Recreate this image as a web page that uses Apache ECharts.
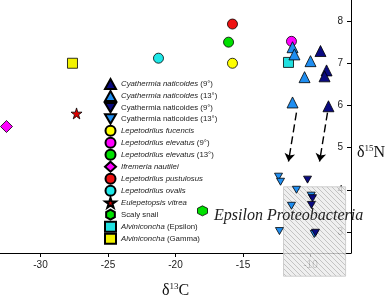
<!DOCTYPE html>
<html lang="en" style="height: 100%">
<head>
<meta charset="utf-8">
<title>d13C vs d15N scatter</title>
</head>
<body style="height: 100%; margin: 0; background: #fff">
<div id="container" style="width: 388px; height: 298px"></div>
<script type="text/javascript" src="https://cdn.jsdelivr.net/npm/echarts@6/dist/echarts.min.js"></script>
<script type="text/javascript">

// data: [d13C, d15N]
var cyaUp9 = [[-9.26, 7.29], [-8.81, 6.83], [-8.96, 6.69], [-8.67, 5.98]];
var cyaUp13 = [[-11.33, 7.38], [-11.19, 7.21], [-10.0, 7.05], [-10.44, 6.67], [-11.33, 6.07]];
var cyaDown9 = [[-10.22, 4.24], [-9.85, 3.80], [-9.93, 3.64], [-9.63, 2.98]];
var cyaDown13 = [[-12.37, 4.31], [-12.22, 4.19], [-11.04, 4.0], [-11.41, 3.62], [-12.30, 3.02], [-9.95, 3.86], [-9.72, 2.95]];
var lepFucencis = [[-15.78, 7.0]];
var lepElev9 = [[-11.41, 7.52]];
var lepElev13 = [[-16.07, 7.5]];
var ifremeria = [[-32.52, 5.5]];
var lepPustulosus = [[-15.78, 7.93]];
var lepOvalis = [[-21.26, 7.12]];
var eulepetopsis = [[-27.33, 5.81]];
var scalySnail = [[-18.0, 3.5]];
var alvEpsilon = [[-11.63, 7.02]];
var alvGamma = [[-27.63, 7.0]];

var xTicks = [-30, -25, -20, -15, -10];
var yTicks = [3, 4, 5, 6, 7, 8];

// hatched Epsilon Proteobacteria box: [x0, yTop], [x1, yBottom]; and the two arrows
var epsilonBox = [[-12.0, 4.07], [-7.4, 1.95]];
var arrows = [
    [[-11.04, 5.83], [-11.63, 4.67]],
    [[-8.74, 5.83], [-9.33, 4.67]]
];

var dom = document.getElementById('container');
var myChart = echarts.init(dom, null, { renderer: 'canvas' });

// diagonal hatch pattern
var hatch = document.createElement('canvas');
hatch.width = 5;
hatch.height = 5;
var hc = hatch.getContext('2d');
hc.fillStyle = '#ececec';
hc.fillRect(0, 0, 5, 5);
hc.strokeStyle = '#aeaeae';
hc.lineWidth = 0.9;
hc.beginPath();
hc.moveTo(-1, -1); hc.lineTo(6, 6);
hc.moveTo(-1, 4); hc.lineTo(1, 6);
hc.moveTo(4, -1); hc.lineTo(6, 1);
hc.stroke();

var STAR = 'path://M50,0 L61,35 L98,35 L68,57 L79,91 L50,70 L21,91 L32,57 L2,35 L39,35 Z';
var HEX = 'path://M43,0 L87,25 L87,75 L43,100 L0,75 L0,25 Z';
var DOWN = 'path://M0,0 L20,0 L10,17 Z';

var labels = {
    c9: '{i|Cyathermia naticoides} (9°)',
    c13: '{i|Cyathermia naticoides} (13°)',
    d9: 'Cyathermia naticoides (9°)',
    d13: 'Cyathermia naticoides (13°)',
    lf: '{i|Lepetodrilus fucencis}',
    le9: '{i|Lepetodrilus elevatus} (9°)',
    le13: '{i|Lepetodrilus elevatus} (13°)',
    ifr: '{i|Ifremeria nautilei}',
    lp: '{i|Lepetodrilus pustulosus}',
    lo: '{i|Lepetodrilus ovalis}',
    ev: '{i|Eulepetopsis vitrea}',
    ss: 'Scaly snail',
    ae: '{i|Alviniconcha} (Epsilon)',
    ag: '{i|Alviniconcha} (Gamma)'
};

function pts(name, data, symbol, size, color) {
    return {
        name: name,
        type: 'scatter',
        data: data,
        symbol: symbol,
        symbolSize: size,
        z: 3,
        itemStyle: { color: color, borderColor: '#000', borderWidth: 0.8, opacity: 1 }
    };
}

var option = {
    animation: false,
    grid: { left: 0, right: 37, top: 0, bottom: 45, outerBoundsMode: 'none', containLabel: false },
    legend: {
        orient: 'vertical',
        left: 104,
        top: 78,
        padding: 0,
        itemWidth: 11,
        itemHeight: 10,
        itemGap: 0,
        data: ['c9', 'c13', 'd9', 'd13', 'lf', 'le9', 'le13', 'ifr', 'lp', 'lo', 'ev', 'ss', 'ae', 'ag'],
        formatter: function (n) { return labels[n]; },
        textStyle: {
            fontFamily: 'Liberation Sans, Arial, sans-serif',
            fontSize: 7.8,
            lineHeight: 10,
            color: '#222',
            rich: { i: { fontStyle: 'italic', fontSize: 7.8, lineHeight: 10, color: '#222', fontFamily: 'Liberation Sans, Arial, sans-serif' } }
        }
    },
    xAxis: {
        type: 'value',
        min: -33,
        max: -7,
        splitLine: { show: false },
        axisLine: { show: true, onZero: false, lineStyle: { color: '#000', width: 1 } },
        axisTick: { show: true, length: 4, customValues: xTicks, lineStyle: { color: '#000' } },
        axisLabel: {
            customValues: xTicks,
            fontSize: 10,
            color: '#222',
            margin: 7,
            fontFamily: 'Liberation Sans, Arial, sans-serif'
        },
        name: 'δ{s|13}C',
        nameLocation: 'middle',
        nameGap: 29,
        nameTextStyle: {
            fontFamily: 'Liberation Serif, Times New Roman, serif',
            fontSize: 16,
            color: '#111',
            rich: { s: { fontSize: 9, verticalAlign: 'top', padding: [0, 0, 8, 0], fontFamily: 'Liberation Serif, serif', color: '#111' } }
        }
    },
    yAxis: {
        type: 'value',
        position: 'right',
        min: 2.5,
        max: 8.5,
        splitLine: { show: false },
        axisLine: { show: true, onZero: false, lineStyle: { color: '#000', width: 1 } },
        axisTick: { show: true, inside: true, length: 4, customValues: yTicks, lineStyle: { color: '#000' } },
        axisLabel: {
            inside: true,
            customValues: yTicks,
            fontSize: 10,
            color: '#222',
            margin: 8,
            fontFamily: 'Liberation Sans, Arial, sans-serif'
        }
    },
    series: [
        {
            type: 'scatter',
            name: 'arrows',
            data: [],
            silent: true,
            markLine: {
                silent: true,
                symbol: ['none', 'arrow'],
                symbolSize: 8,
                label: { show: false },
                lineStyle: { color: '#000', width: 1.4, type: [8, 4] },
                data: arrows.map(function (a) {
                    return [{ coord: a[0] }, { coord: a[1] }];
                })
            }
        },
        pts('lp', lepPustulosus, 'circle', 10, '#ee1111'),
        pts('le13', lepElev13, 'circle', 10, '#00e000'),
        pts('lf', lepFucencis, 'circle', 10, '#ffff00'),
        pts('lo', lepOvalis, 'circle', 10, '#1ee8e8'),
        pts('ifr', ifremeria, 'diamond', 12, '#ff00ff'),
        pts('ev', eulepetopsis, STAR, 11, '#dd0000'),
        pts('ss', scalySnail, HEX, 10, '#00e000'),
        pts('ag', alvGamma, 'rect', 10, '#f2f200'),
        pts('ae', alvEpsilon, 'rect', 10, '#22e0e0'),
        pts('le9', lepElev9, 'circle', 10, '#ff00ff'),
        pts('c13', cyaUp13, 'triangle', 11, '#1f8ef1'),
        pts('c9', cyaUp9, 'triangle', 11, '#0a0a80'),
        pts('d13', cyaDown13, DOWN, [8, 7], '#1f8ef1'),
        pts('d9', cyaDown9, DOWN, [8, 7], '#0a0a80')
    ]
};

myChart.setOption(option);

// box and text annotations placed through the chart's own scales
var p0 = myChart.convertToPixel({ gridIndex: 0 }, epsilonBox[0]);
var p1 = myChart.convertToPixel({ gridIndex: 0 }, epsilonBox[1]);
myChart.setOption({
    graphic: [
        {
            type: 'rect',
            z: 1,
            silent: true,
            shape: { x: p0[0], y: p0[1], width: p1[0] - p0[0], height: p1[1] - p0[1] },
            style: { fill: { image: hatch, repeat: 'repeat' }, stroke: '#c4c4c4', lineWidth: 1, opacity: 0.8 }
        },
        {
            type: 'text',
            left: 357,
            top: 144,
            z: 10,
            style: {
                text: 'δ{s|15}N',
                fill: '#111',
                font: '16px "Liberation Serif", serif',
                rich: { s: { fontSize: 9, verticalAlign: 'top', padding: [0, 0, 8, 0], fontFamily: 'Liberation Serif, serif', fill: '#111' } }
            }
        },
        {
            type: 'text',
            left: 214,
            top: 208,
            z: 10,
            style: {
                text: 'Epsilon Proteobacteria',
                fill: '#222',
                font: 'italic 16px "Liberation Serif", serif'
            }
        }
    ]
});
window.addEventListener('resize', myChart.resize);
</script>
</body>
</html>
